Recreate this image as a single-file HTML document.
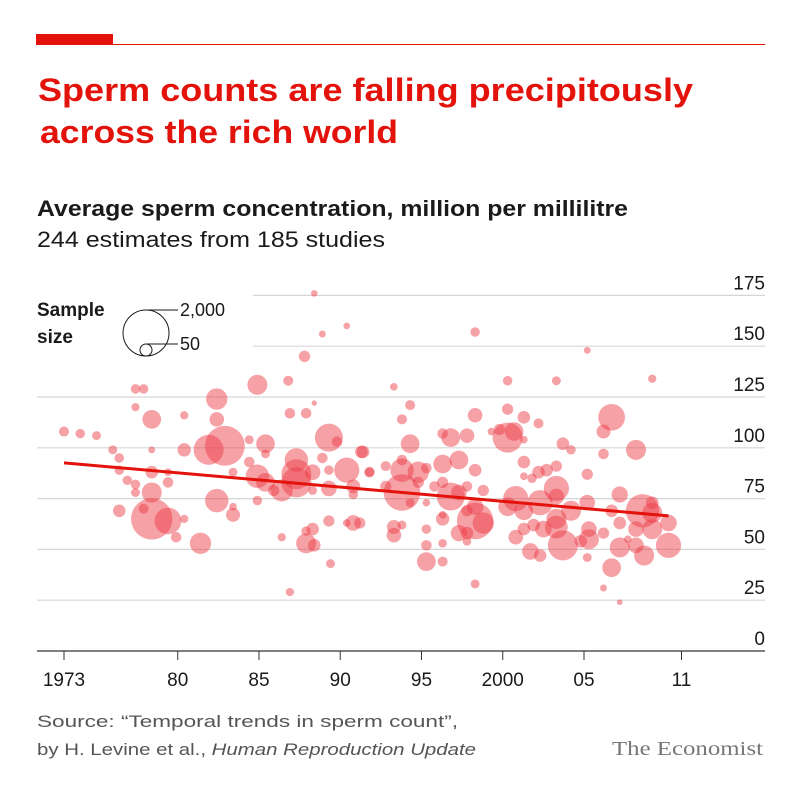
<!DOCTYPE html>
<html><head><meta charset="utf-8"><style>
html,body{margin:0;padding:0;background:#fff}
svg{display:block;font-family:"Liberation Sans",sans-serif}
</style></head><body>
<svg id="chart" width="800" height="800" viewBox="0 0 800 800">
<rect x="36" y="34" width="77" height="10" fill="#e3120b"/>
<line x1="36" y1="44.5" x2="765" y2="44.5" stroke="#e3120b" stroke-width="1"/>
<text x="38" y="101" font-size="32" font-weight="bold" fill="#e3120b" textLength="655" lengthAdjust="spacingAndGlyphs">Sperm counts are falling precipitously</text>
<text x="40" y="143" font-size="32" font-weight="bold" fill="#e3120b" textLength="358" lengthAdjust="spacingAndGlyphs">across the rich world</text>
<text x="37" y="216" font-size="22" font-weight="bold" fill="#1a1a1a" textLength="591" lengthAdjust="spacingAndGlyphs">Average sperm concentration, million per millilitre</text>
<text x="37" y="247" font-size="22" fill="#1a1a1a" textLength="348" lengthAdjust="spacingAndGlyphs">244 estimates from 185 studies</text>
<g id="grid"></g>
<g id="bubbles"></g>
<g id="trend"></g>
<g id="xaxis"></g>
<g>
<text x="37" y="316" font-size="19" font-weight="bold" fill="#1a1a1a">Sample</text>
<text x="37" y="343" font-size="19" font-weight="bold" fill="#1a1a1a">size</text>
<circle cx="146" cy="333" r="23" fill="none" stroke="#1a1a1a" stroke-width="1"/>
<circle cx="146" cy="350" r="6" fill="none" stroke="#1a1a1a" stroke-width="1"/>
<line x1="146" y1="310" x2="178" y2="310" stroke="#1a1a1a" stroke-width="1"/>
<line x1="146" y1="344" x2="178" y2="344" stroke="#1a1a1a" stroke-width="1"/>
<text x="180" y="316" font-size="18" fill="#1a1a1a">2,000</text>
<text x="180" y="350" font-size="18" fill="#1a1a1a">50</text>
</g>
<text x="37" y="727" font-size="17" fill="#555" textLength="421" lengthAdjust="spacingAndGlyphs">Source: “Temporal trends in sperm count”,</text>
<text x="37" y="755" font-size="17" fill="#555" textLength="439" lengthAdjust="spacingAndGlyphs">by H. Levine et al., <tspan font-style="italic">Human Reproduction Update</tspan></text>
<text x="612" y="755" font-size="20" fill="#777" font-family="Liberation Serif,serif" textLength="151" lengthAdjust="spacingAndGlyphs">The Economist</text>
</svg>
<script>
const yTicks=[0,25,50,75,100,125,150,175];
const xTickYears=[1973,1980,1985,1990,1995,2000,2005,2011];
const xTickLabels=["1973","80","85","90","95","2000","05","11"];
const years=[1988.4,1988.9,1990.4,1987.8,1984.9,1986.8,1977.4,1977.9,1982.4,1977.4,1988.4,1978.4,1980.4,1982.4,1986.9,1987.9,1973,1974,1975,1981.9,1982.9,1984.4,1985.4,1989.3,1989.8,1976,1978.4,1980.4,1976.4,1991.3,1985.4,1984.4,1987.3,1988.9,1990.4,1991.8,1976.4,1978.4,1979.4,1984.9,1987.3,1988.3,1989.3,1983.4,1976.9,1977.4,1979.4,1985.4,1985.9,1986.4,1987.3,1989.3,1990.8,1988.3,1977.4,1978.4,1982.4,1990.8,1984.9,1976.4,1978.4,1979.4,1977.9,1983.4,1983.4,1980.4,1989.3,1990.4,1990.8,1988.3,1987.9,1979.9,1981.4,1987.9,1988.4,1986.4,1989.4,1986.9,
1998.3,2005.2,2009.2,2000.3,2003.3,1993.3,1994.3,1993.8,2000.3,1998.3,2001.3,2002.2,2006.7,2006.2,2000.3,2000.7,1999.3,1999.8,2001.3,1996.3,1996.8,1997.8,1994.3,1991.4,2003.7,2004.2,2006.2,2008.2,1993.8,1992.8,1991.8,1993.8,1994.8,1995.3,1996.3,1997.3,1998.3,2001.3,2002.2,2002.7,2003.3,2005.2,2001.3,2001.8,1992.8,1994.8,1995.8,1996.3,1997.8,1998.8,2003.3,2000.8,1993.8,1994.3,1995.3,1996.3,1996.8,1997.3,1997.8,1998.3,2000.3,2001.3,2002.3,2003.3,2004.2,2005.2,2006.7,2007.2,2008.6,2009.2,2009.2,1991.2,1993.3,1993.8,1993.3,1995.3,1996.3,1997.8,1997.8,1997.3,1998.3,1998.8,2000.8,2001.3,2001.7,2002.3,2001.9,2002.5,2003.3,2003.7,2003.3,2004.8,2005.3,2005.3,2006.2,2007.2,2007.2,2007.7,2008.2,2008.2,2009.2,2010.2,2010.2,2008.7,2005.2,2006.7,2006.2,2007.2,1995.3,1996.3,1995.3,1996.3,1998.3];
const concentrations=[176,156,160,145,131,133,129,129,124,120,122,114,116,114,117,117,108,107,106,99,101,104,102,105,103,99,99,99,95,98,97,93,94,95,89,88,89,88,88,86,87,88,89,88,84,82,83,83,79,79,83,80,81,79,78,78,74,77,74,69,65,64,70,71,67,65,64,63,63,60,59,56,53,53,52,56,43,29,
157,148,134,133,133,130,121,114,119,116,115,112,115,108,105,108,108,109,104,107,105,106,102,98,102,99,97,99,94,91,88,89,88,90,92,94,89,93,88,89,91,87,86,85,81,83,81,83,81,79,80,75,78,73,73,67,76,78,69,71,71,69,73,76,69,73,69,77,69,73,68,63,61,62,57,60,65,58,54,58,64,63,56,60,49,47,62,60,61,52,65,54,60,55,58,63,51,55,52,60,60,63,52,47,46,41,31,24,52,53,44,44,33];
const sampleSizes=[41,45,41,123,378,95,85,85,430,64,27,330,64,200,105,105,95,85,75,850,1500,75,330,740,105,75,45,170,85,150,75,105,520,105,600,105,85,150,55,520,850,230,85,75,85,85,105,330,120,460,850,230,185,75,75,378,520,85,85,150,1620,675,95,55,185,64,120,55,230,150,85,105,430,378,150,64,75,64,
85,45,64,85,75,55,95,95,120,200,150,95,675,185,850,330,55,120,55,105,330,200,330,150,150,85,105,378,105,95,85,520,430,105,330,330,150,150,150,150,120,120,55,85,120,120,105,120,105,120,600,600,1260,75,55,55,740,230,120,260,330,330,600,230,378,230,150,250,1050,150,378,120,185,75,200,85,170,150,70,250,1260,430,200,150,260,150,150,260,490,850,378,150,230,378,120,150,378,55,230,230,378,260,600,378,75,330,45,30,105,70,330,95,75,70,70,105];
const trendYears=[1973,2010.2];
const trendValues=[92.6,66.5];

const NS="http://www.w3.org/2000/svg";
const x=yr=>64+(yr-1973)*16.25;
const y=v=>651-v*2.032;
const rScale=n=>23*Math.sqrt(n/2000);
function mk(tag,attrs,parent){const e=document.createElementNS(NS,tag);for(const k in attrs)e.setAttribute(k,attrs[k]);parent.appendChild(e);return e;}

const grid=document.getElementById('grid');
yTicks.forEach(t=>{
  const yy=y(t);
  const left=t>=150?253:37;
  const ln=mk('line',{x1:left,x2:765,y1:yy,y2:yy,stroke:t===0?'#333':'#d6d6d6','stroke-width':t===0?1.2:1.2},grid);
  
  
  const tx=mk('text',{x:765,y:yy-6,'text-anchor':'end','font-size':19,fill:'#1a1a1a'},grid);
  tx.textContent=String(t);
  
  
});

const bub=document.getElementById('bubbles');
years.forEach((yr,i)=>{
  const c=mk('circle',{cx:x(yr),cy:y(concentrations[i]),r:rScale(sampleSizes[i]),fill:'#ec3b44','fill-opacity':0.48},bub);
  
  
});

const tr=document.getElementById('trend');
const tl=mk('line',{x1:x(trendYears[0]),y1:y(trendValues[0]),x2:x(trendYears[1]),y2:y(trendValues[1]),stroke:'#e3120b','stroke-width':3},tr);



const xa=document.getElementById('xaxis');
xTickYears.forEach((yr,i)=>{
  const tk=mk('line',{x1:x(yr),x2:x(yr),y1:651,y2:660,stroke:'#333','stroke-width':1},xa);
  
  
  const tx=mk('text',{x:x(yr),y:686,'text-anchor':'middle','font-size':19,fill:'#1a1a1a'},xa);
  tx.textContent=xTickLabels[i];
  
  
});
</script>
</body></html>
